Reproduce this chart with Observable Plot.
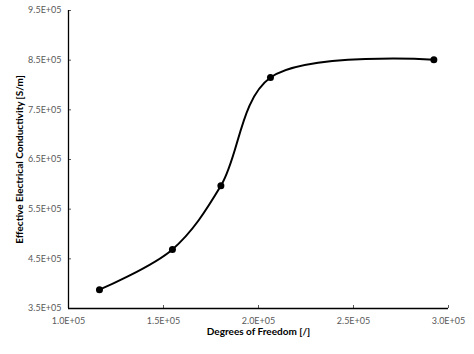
<!DOCTYPE html>
<html><head><meta charset="utf-8">
<script src="https://cdn.jsdelivr.net/npm/d3@7"></script>
<script src="https://cdn.jsdelivr.net/npm/@observablehq/plot@0.6"></script>
<style>body{margin:0;background:#fff;} svg{display:block;}</style>
</head><body><div id="chart"></div>
<script>
const dof = [116300, 154700, 180200, 206300, 292300];
const conductivity = [388000, 469000, 597000, 815000, 851000];
const xTicks = [100000, 150000, 200000, 250000, 300000];
const yTicks = [350000, 450000, 550000, 650000, 750000, 850000, 950000];

const data = dof.map((d, i) => ({x: d, y: conductivity[i]}));
const fmt = d => (d / 1e5).toFixed(1) + "E+05";

const plot = Plot.plot({
  width: 474, height: 354,
  marginLeft: 68, marginRight: 26, marginTop: 10, marginBottom: 46,
  style: {fontFamily: "Lato, 'Open Sans', sans-serif", fontSize: "9px", background: "#fff"},
  x: {domain: [100000, 300000]},
  y: {domain: [350000, 950000]},
  marks: [
    Plot.axisX({ticks: xTicks, tickFormat: fmt, tickSize: -3, tickPadding: 12, color: "#595959", label: null, fontSize: 9}),
    Plot.axisY({ticks: yTicks, tickFormat: fmt, tickSize: -3, tickPadding: 10, color: "#595959", label: null, fontSize: 9}),
    Plot.ruleX([100000], {stroke: "#000", strokeWidth: 1.3}),
    Plot.ruleY([350000], {stroke: "#000", strokeWidth: 1.3}),
    Plot.line(data, {x: "x", y: "y", curve: "catmull-rom", stroke: "#000", strokeWidth: 2}),
    Plot.dot(data, {x: "x", y: "y", r: 3.5, fill: "#000"}),
    Plot.text(["Degrees of Freedom [/]"], {frameAnchor: "bottom", dy: 26, fontWeight: "bold", fontSize: 10, fill: "#000"}),
    Plot.text(["Effective Electrical Conductivity [S/m]"], {frameAnchor: "left", textAnchor: "middle", dx: -49, rotate: -90, fontWeight: "bold", fontSize: 10, fill: "#000"})
  ]
});
document.getElementById("chart").append(plot);
</script></body></html>
